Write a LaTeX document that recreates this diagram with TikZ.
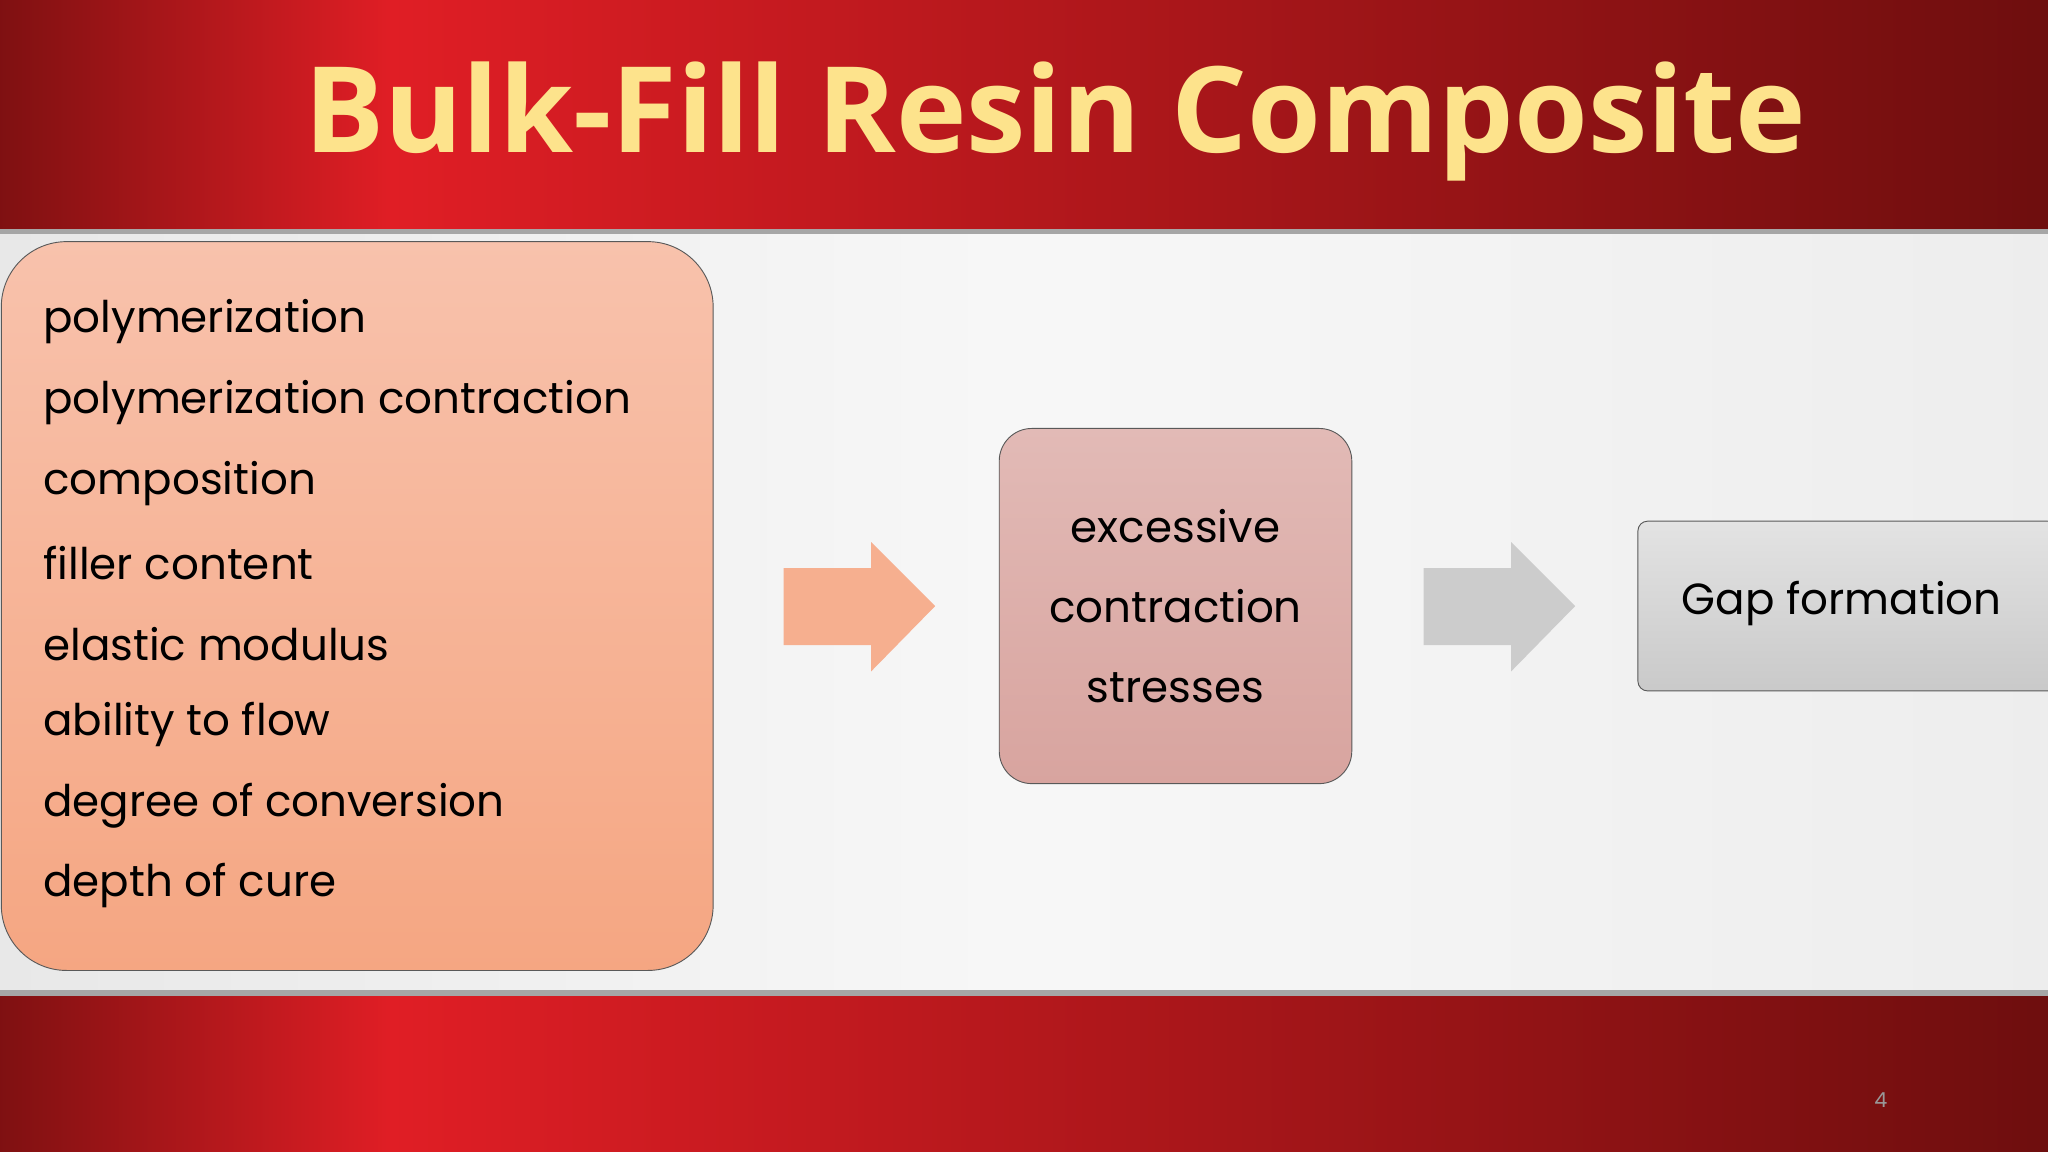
\documentclass[tikz,border=0pt]{standalone}
\usepackage{fontspec}
\setmainfont{Poppins}
\newfontfamily\titlefont{Open Sans}
\definecolor{bandred}{HTML}{E01E25}
\definecolor{banddark}{HTML}{6E0E0E}
\definecolor{titleyellow}{HTML}{FDE38C}
\definecolor{salmontop}{HTML}{F8C2AC}
\definecolor{salmonbot}{HTML}{F5A682}
\definecolor{rosetop}{HTML}{E2BAB6}
\definecolor{rosebot}{HTML}{D8A49F}
\tikzset{
	factor/.style={anchor=west,font=\fontsize{19}{23}\selectfont},
	bandleft/.style={left color=banddark!85!bandred,right color=bandred},
	bandright/.style={left color=bandred,right color=banddark}
}
\newcommand{\flowarrow}[2]{% x of tail, fill colour
	\fill[#2] (#1,435) -- ++(67,0) -- ++(0,-20) -- ++(49,49) -- ++(-49,50) -- ++(0,-20) -- ++(-67,0) -- cycle;}
\begin{document}
\begin{tikzpicture}[x=0.02cm,y=-0.02cm]
	\useasboundingbox (0,0) rectangle (1568,882);
	% background bands
	\shade[bandleft] (0,0) rectangle (300,176);
	\shade[bandright] (299.5,0) rectangle (1568,176);
	\shade[left color=white!91!black,right color=white!93!black,middle color=white!97!black] (0,178) rectangle (1568,760);
	\fill[gray!70] (0,175) rectangle (1568,179);
	\fill[gray!70] (0,758) rectangle (1568,763);
	\shade[bandleft] (0,763) rectangle (300,882);
	\shade[bandright] (299.5,763) rectangle (1568,882);
	\node[text=titleyellow,font=\titlefont\bfseries\fontsize{52}{58}\selectfont] (title) at (808,93) {Bulk-Fill Resin Composite};
	% factors box
	\draw[gray!70!black,top color=salmontop,bottom color=salmonbot,rounded corners=1cm] (1,185) rectangle (546,743);
	\node[factor] (f1) at (27,246) {polymerization};
	\node[factor] (f2) at (27,308) {polymerization contraction};
	\node[factor] (f3) at (27,370) {composition};
	\node[factor] (f4) at (27,431) {filler content};
	\node[factor] (f5) at (27,493) {elastic modulus};
	\node[factor] (f6) at (27,555) {ability to flow};
	\node[factor] (f7) at (27,617) {degree of conversion};
	\node[factor] (f8) at (27,678) {depth of cure};
	% arrows and boxes
	\flowarrow{600}{salmonbot!90!white}
	\node[draw=gray!70!black,top color=rosetop,bottom color=rosebot,rounded corners=0.5cm,minimum width=5.4cm,minimum height=5.44cm,align=center,font=\fontsize{19}{35}\selectfont] (stress) at (900,464) {excessive\\contraction\\stresses};
	\flowarrow{1090}{gray!40}
	\draw[gray!70!black,top color=gray!22,bottom color=gray!42,rounded corners=0.15cm] (1254,399) rectangle (1575,529);
	\node[font=\fontsize{19}{24}\selectfont] (gap) at (1410,462) {Gap formation};
	\node[text=gray!80,font=\fontsize{9}{10}\selectfont] (page) at (1440,842) {4};
\end{tikzpicture}
\end{document}
